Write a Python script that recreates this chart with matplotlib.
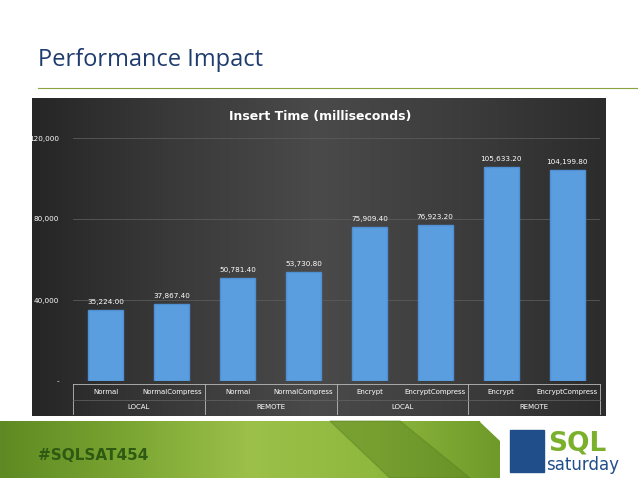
import numpy as np
import matplotlib.pyplot as plt
from matplotlib.patches import Rectangle, Polygon
from matplotlib.colors import LinearSegmentedColormap

# chart data
bar_labels = ["Normal", "NormalCompress", "Normal", "NormalCompress",
              "Encrypt", "EncryptCompress", "Encrypt", "EncryptCompress"]
group_labels = ["LOCAL", "REMOTE", "LOCAL", "REMOTE"]
insert_ms = [35224.00, 37867.40, 50781.40, 53730.80,
             75909.40, 76923.20, 105633.20, 104199.80]
y_ticks = [0, 40000, 80000, 120000]
y_tick_labels = ["-", "40,000", "80,000", "120,000"]

W, H = 638, 478
fig = plt.figure(figsize=(W / 100, H / 100), dpi=100)
fig.patch.set_facecolor("white")

# slide background layer in pixel coords
bg = fig.add_axes([0, 0, 1, 1])
bg.set_xlim(0, W)
bg.set_ylim(H, 0)
bg.axis("off")

bg.text(38, 60, "Performance Impact", fontsize=17, color="#1f3c6e",
        family="Open Sans", va="center")
bg.plot([38, 638], [88, 88], color="#8aa33c", lw=0.8)

# dark chart panel with soft gradient
panel_cmap = LinearSegmentedColormap.from_list(
    "panel", ["#262626", "#3a3a3a", "#4a4a4a", "#3c3c3c", "#2c2c2c"])
bg.imshow(np.tile(np.linspace(0, 1, 256), (2, 1)), extent=[32, 606, 416, 98],
          cmap=panel_cmap, aspect="auto", zorder=1)
bg.text(320, 116, "Insert Time (milliseconds)", color="white", fontsize=9,
        fontweight="bold", ha="center", va="center", zorder=3)

# footer band
foot_cmap = LinearSegmentedColormap.from_list(
    "foot", ["#5f8a23", "#7aa532", "#9cc04a", "#8fb83e", "#6e9a2a"])
bg.imshow(np.tile(np.linspace(0, 1, 256), (2, 1)), extent=[0, 500, 478, 421],
          cmap=foot_cmap, aspect="auto", zorder=1)
bg.add_patch(Polygon([[330, 421], [400, 421], [470, 478], [390, 478]],
                     color="#5a8220", alpha=0.45, zorder=2))
bg.add_patch(Polygon([[480, 421], [638, 421], [638, 478], [540, 478]],
                     color="white", zorder=2))
bg.text(38, 455, "#SQLSAT454", color="#2f5a12", fontsize=11, fontweight="bold",
        va="center", zorder=3)
bg.add_patch(Rectangle((510, 430), 34, 42, color="#1f4e8a", zorder=3))
bg.text(548, 443, "SQL", color="#7ab02c", fontsize=19, fontweight="bold",
        va="center", zorder=3)
bg.text(546, 465, "saturday", color="#1f4e8a", fontsize=12, va="center", zorder=3)

# bar chart axes
ax = fig.add_axes([73 / W, 1 - 381 / H, 527 / W, 243 / H])
ax.patch.set_alpha(0)
x = np.arange(len(insert_ms))
ax.bar(x, insert_ms, width=0.53, color="#5b9ee0", edgecolor="#4f8fd4", zorder=3)
for xi, v in zip(x, insert_ms):
    ax.text(xi, v + 2500, f"{v:,.2f}", color="white", fontsize=5.2,
            ha="center", va="bottom", zorder=4)
ax.set_xlim(-0.5, len(insert_ms) - 0.5)
ax.set_ylim(0, 120000)
ax.set_yticks(y_ticks)
ax.set_yticklabels(y_tick_labels, color="white", fontsize=5.2)
ax.tick_params(axis="y", length=0, pad=10)
ax.grid(axis="y", color="#5a5a5a", lw=0.6, zorder=0)
ax.set_xticks([])
for s in ax.spines.values():
    s.set_visible(False)

# category labels below the axes
for xi, lab in zip(x, bar_labels):
    ax.text(xi, -5400, lab, color="white", fontsize=5, ha="center", va="center",
            clip_on=False)
for gi, g in enumerate(group_labels):
    ax.text(gi * 2 + 0.5, -12800, g, color="white", fontsize=5, ha="center",
            va="center", clip_on=False)
for b in range(len(group_labels) + 1):
    ax.plot([b * 2 - 0.5, b * 2 - 0.5], [-1500, -16300], color="#bbbbbb", lw=0.6,
            clip_on=False)
ax.plot([-0.5, 7.5], [-1500, -1500], color="#bbbbbb", lw=0.6, clip_on=False)
ax.plot([-0.5, 7.5], [-9400, -9400], color="#666666", lw=0.5, clip_on=False)

fig.savefig("out.png", dpi=100)
